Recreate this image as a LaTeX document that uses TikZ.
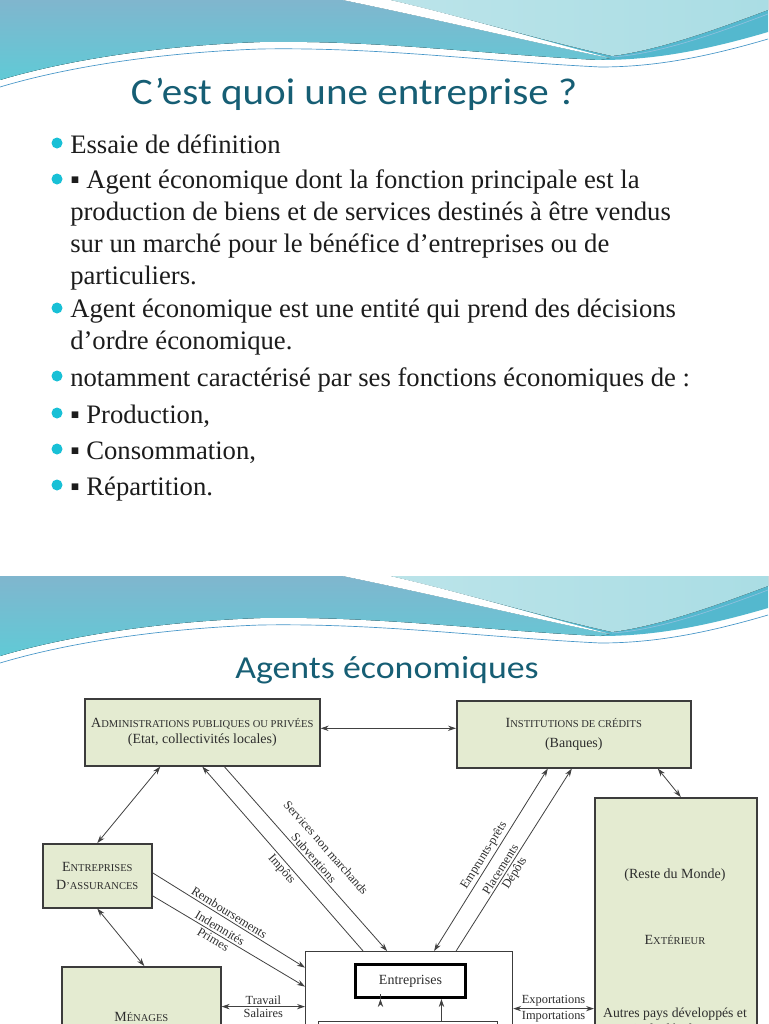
\documentclass[tikz,border=0pt]{standalone}
\usepackage{fontspec}
\setmainfont{Liberation Serif}
\newfontfamily\titlefont{Carlito}
\usetikzlibrary{arrows.meta,positioning,calc}

\definecolor{titleblue}{RGB}{22,94,116}
\definecolor{bulletcyan}{RGB}{24,192,214}
\definecolor{bodytext}{RGB}{28,28,28}
\definecolor{diagtext}{RGB}{45,45,45}
\definecolor{boxfill}{RGB}{228,235,209}
\definecolor{boxline}{RGB}{60,60,60}
\definecolor{flowline}{RGB}{65,65,65}
\definecolor{waveblue}{RGB}{128,182,206}
\definecolor{wavecyan}{RGB}{96,202,214}
\definecolor{wavelight}{RGB}{170,221,228}
\definecolor{waveband}{RGB}{84,184,206}
\definecolor{waveline}{RGB}{70,150,200}

\newcommand{\bodyfont}{\fontsize{20}{23.8}\selectfont}
\newcommand{\diagfont}{\fontsize{10.5}{12.5}\selectfont}
\newcommand{\petitescap}[2]{#1{\fontsize{7.9}{9}\selectfont #2}}

% bandeau du haut de chaque diapo
\newcommand{\slidewave}{%
  \fill[waveband] (0,0) -- (768,0) -- (768,32) .. controls (700,52) and (650,60) .. (600,60)
    .. controls (480,54) and (380,40) .. (260,42) .. controls (150,46) and (60,62) .. (0,80) -- cycle;
  \fill[top color=waveblue, bottom color=wavecyan] (0,0) -- (343,0) .. controls (440,20) and (540,44) .. (610,58)
    -- (600,60) .. controls (480,54) and (380,40) .. (260,42) .. controls (150,46) and (60,62) .. (0,80) -- cycle;
  \fill[left color=wavelight!80!white, right color=wavelight] (390,0) -- (768,0) -- (768,10)
    .. controls (720,28) and (660,50) .. (612,56) .. controls (540,40) and (460,16) .. (390,0) -- cycle;
  \fill[white] (343,0) .. controls (440,20) and (540,44) .. (610,58)
    .. controls (540,40) and (460,16) .. (390,0) -- cycle;
  \draw[white, line width=1.5pt] (0,84) .. controls (60,66) and (150,50) .. (260,46)
    .. controls (380,44) and (480,58) .. (600,64) .. controls (650,64) and (700,56) .. (768,36);
  \draw[waveline, line width=0.5pt] (0,87) .. controls (60,69) and (150,53) .. (260,49)
    .. controls (380,47) and (480,61) .. (600,67) .. controls (650,67) and (700,59) .. (768,39);
  \draw[waveline!60!white, line width=0.5pt] (612,57) .. controls (660,54) and (720,32) .. (768,14);
}

\begin{document}
\begin{tikzpicture}[x=0.75pt, y=-0.75pt,
  titre/.style={font=\titlefont\fontsize{24}{28}\selectfont, text=titleblue, inner sep=0pt, anchor=base},
  para/.style={font=\bodyfont, text=bodytext, align=left, inner sep=0pt, anchor=base west},
  agent/.style={draw=boxline, line width=1.2pt, fill=boxfill, align=center, font=\diagfont, text=diagtext, inner sep=1pt, anchor=north west},
  firmbox/.style={draw=boxline, line width=0.9pt, fill=white, inner sep=0pt, anchor=north west},
  lab/.style={font=\fontsize{9.3}{11}\selectfont, text=diagtext, inner sep=1.5pt},
  flow/.style={draw=flowline, line width=0.6pt, -{Stealth[length=6pt,width=4pt]}},
  both/.style={flow, {Stealth[length=6pt,width=4pt]}-{Stealth[length=6pt,width=4pt]}}
]
  \useasboundingbox (0,0) rectangle (768,1024);
  \clip (0,0) rectangle (768,1024);
  \fill[white] (0,0) rectangle (768,1024);

  % diapo 1
  \slidewave
  \node[titre, font=\titlefont\fontsize{28}{32}\selectfont, xscale=1.1] (t1) at (354,104) {C’est quoi une entreprise ?};

  \foreach \b in {153,189,318,386,423,459,495}
    \fill[bulletcyan] (57,\b-10) circle[radius=5.5];

  \node[para] (p1) at (70,153) {Essaie de définition};
  \node[para] (p2) at (70,284) {▪ Agent économique dont la fonction principale est la\\
    production de biens et de services destinés à être vendus\\
    sur un marché pour le bénéfice d’entreprises ou de\\particuliers.};
  \node[para] (p3) at (70,349) {Agent économique est une entité qui prend des décisions\\d{\char"0027}ordre économique.};
  \node[para] (p4) at (70,386) {notamment caractérisé par ses fonctions économiques de :};
  \node[para] (p5) at (70,423) {▪ Production,};
  \node[para] (p6) at (70,459) {▪ Consommation,};
  \node[para] (p7) at (70,495) {▪ Répartition.};

  % diapo 2
  \begin{scope}[shift={(0,576)}]
    \slidewave
  \end{scope}
  \node[titre, xscale=1.12] (t2) at (387,678) {Agents économiques};

  \node[agent, minimum width=176.25pt, minimum height=50.25pt] (adm) at (84,698)
    {\petitescap{A}{DMINISTRATIONS PUBLIQUES OU PRIVÉES}\\(Etat, collectivités locales)};
  \node[agent, minimum width=175.5pt, minimum height=50.25pt] (inst) at (456,700)
    {\petitescap{I}{NSTITUTIONS DE CRÉDITS}\\[2.5pt](Banques)};
  \node[agent, minimum width=81.75pt, minimum height=48pt] (assur) at (42,843)
    {\petitescap{E}{NTREPRISES}\\[1pt]\petitescap{D}{’ASSURANCES}};
  \node[agent, minimum width=119.25pt, minimum height=75pt] (men) at (61,966)
    {\petitescap{M}{ÉNAGES}};
  \node[agent, minimum width=121.5pt, minimum height=225pt] (ext) at (594,797) {};
  \node[lab, font=\diagfont] (reste) at (675,875) {(Reste du Monde)};
  \node[lab, font=\diagfont] (extlab) at (675,940) {\petitescap{E}{XTÉRIEUR}};
  \node[lab, font=\fontsize{10.3}{11.5}\selectfont, align=center, anchor=north] (autres) at (675,1006)
    {Autres pays développés et\\en voie de développement};

  \node[firmbox, minimum width=155.25pt, minimum height=82.5pt] (firm) at (305,951) {};
  \node[firmbox, draw=black, line width=2.2pt, minimum width=82.5pt, minimum height=24.75pt,
    font=\fontsize{10.5}{12}\selectfont, text=diagtext] (entr) at (354,963) {Entreprises};
  \node[firmbox, minimum width=134.25pt, minimum height=30pt] (sub) at (318,1021) {};

  % flux
  \coordinate (ai) at ($(adm.east)+(0,-4)$);
  \draw[both] (ai) -- (ai -| inst.west);
  \draw[both] ($(adm.south)+(-42,0)$) -- (assur.north);
  \draw[both] (assur.south) -- ($(men.north)+(3,0)$);
  \draw[both] ($(inst.south)+(84,0)$) -- ($(ext.north)+(5,0)$);

  \draw[flow] ($(firm.north)+(-46,0)$) -- node[lab, sloped, below, pos=0.47] {Impôts} (adm.south);
  \draw[flow] ($(adm.south)+(22,0)$) -- node[lab, sloped, above, pos=0.52, align=center]
    {Services non marchands\\[1pt]Subventions} ($(firm.north)+(-22,0)$);
  \draw[both] ($(firm.north)+(25,0)$) -- node[lab, sloped, above, pos=0.5] {Emprunts-prêts} ($(inst.south)+(-26,0)$);
  \draw[flow] ($(firm.north)+(47,0)$) -- node[lab, sloped, above, pos=0.43] {Placements}
    node[lab, sloped, below, pos=0.45] {Dépôts} ($(inst.south)+(-2,0)$);

  \draw[flow] ($(assur.east)+(0,-3)$) -- node[lab, sloped, above, pos=0.48] {Remboursements} ($(firm.west)+(0,-39)$);
  \draw[flow] ($(assur.east)+(0,20)$) -- node[lab, sloped, above, pos=0.42] {Indemnités}
    node[lab, sloped, below, pos=0.42] {Primes} ($(firm.west)+(0,-20)$);

  \draw[both] (firm.west) -- node[lab, above] {Travail} node[lab, below] {Salaires} (firm.west -| men.east);
  \coordinate (fe) at ($(firm.east)+(0,2)$);
  \draw[both] (fe) -- node[lab, above] {Exportations} node[lab, below] {Importations} (fe -| ext.west);

  \draw[flow] ($(entr.south)+(-30,0)$) -- ($(entr.south)+(-30,0)$ |- sub.north);
  \coordinate (up) at ($(entr.south)+(31,0)$);
  \draw[flow] (up |- sub.north) -- (up);
\end{tikzpicture}
\end{document}
